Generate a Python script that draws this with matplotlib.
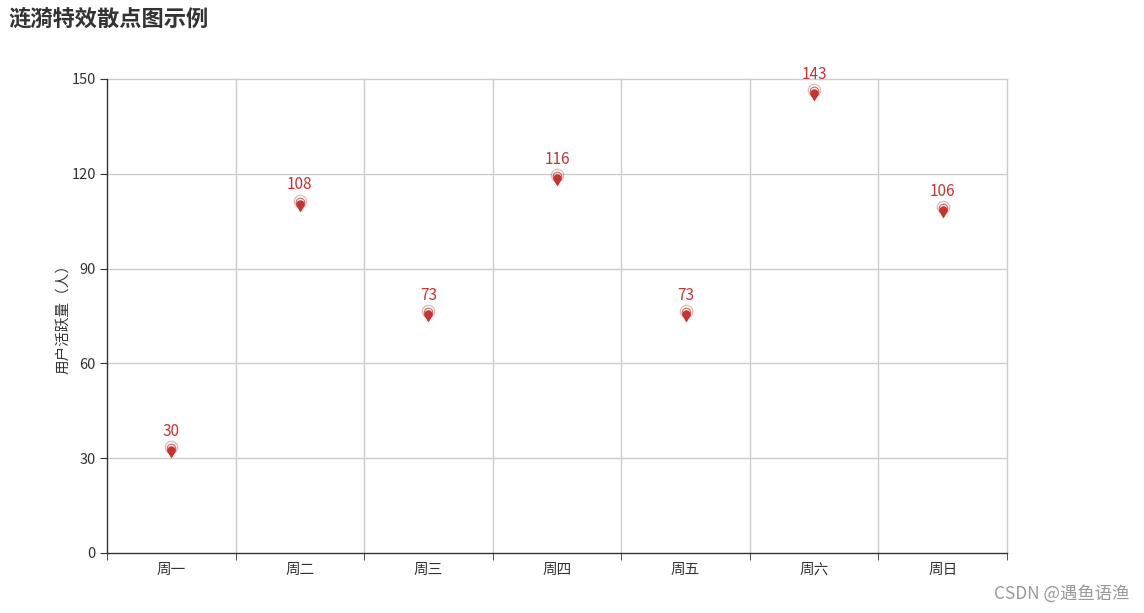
import matplotlib
matplotlib.use("Agg")
import matplotlib.pyplot as plt
from matplotlib.path import Path
from matplotlib.transforms import offset_copy
import numpy as np

plt.rcParams['font.family'] = ['Noto Sans CJK SC', 'DejaVu Sans']

categories = ['周一', '周二', '周三', '周四', '周五', '周六', '周日']
values = [30, 108, 73, 116, 73, 143, 106]
y_ticks = [0, 30, 60, 90, 120, 150]
title = '涟漪特效散点图示例'
y_label = '用户活跃量（人）'
watermark = 'CSDN @遇鱼语渔'

RED = '#c23531'
W, H = 1144, 613
fig = plt.figure(figsize=(W / 100, H / 100), dpi=100)
L, R, T, B = 107, 1007, 79, 553
ax = fig.add_axes([L / W, (H - B) / H, (R - L) / W, (B - T) / H])

x = np.arange(len(categories))
ax.set_xlim(-0.5, len(categories) - 0.5)
ax.set_ylim(0, 150)

# grid
for yv in y_ticks[1:]:
    ax.axhline(yv, color='#cccccc', lw=1, zorder=0, clip_on=False)
for xb in np.arange(0.5, len(categories), 1.0):
    ax.axvline(xb, color='#cccccc', lw=1, zorder=0, clip_on=False)

for s in ['top', 'right']:
    ax.spines[s].set_visible(False)
for s in ['left', 'bottom']:
    ax.spines[s].set_color('#333333')
    ax.spines[s].set_linewidth(1)

ax.set_yticks(y_ticks)
ax.set_yticklabels([str(v) for v in y_ticks], color='#333333', fontsize=10.5)
ax.tick_params(axis='y', length=5, color='#333333', pad=3)
ax.set_xticks(x)
ax.set_xticklabels(categories, color='#333333', fontsize=10.5)
ax.tick_params(axis='x', length=0, pad=7)
ax.set_xticks(np.arange(-0.5, len(categories), 1.0), minor=True)
ax.tick_params(axis='x', which='minor', length=5, color='#333333')

ax.set_ylabel(y_label, fontsize=10.5, color='#333333', labelpad=1)

# pin marker with tip at origin
t = np.linspace(-0.22 * np.pi, 1.22 * np.pi, 48)
r = 0.5
cx, cy = 0.0, 0.95
verts = [(0, 0)] + [(cx + r * np.cos(a), cy + r * np.sin(a)) for a in t] + [(0, 0)]
codes = [Path.MOVETO] + [Path.LINETO] * (len(verts) - 2) + [Path.CLOSEPOLY]
pin = Path(verts, codes)

ax.scatter(x, values, marker=pin, s=310, color=RED, zorder=4, linewidths=0, clip_on=False)

for xi, v in zip(x, values):
    for dy, rad, alpha in [(10, 4.3, 0.7), (11, 6.2, 0.35)]:
        tr = offset_copy(ax.transData, fig=fig, x=0, y=dy, units='dots')
        ax.plot([xi], [v], marker='o', ms=rad * 2 * 0.72, mfc='none', mec=RED,
                mew=0.9, alpha=alpha, transform=tr, zorder=3, clip_on=False)
    tl = offset_copy(ax.transData, fig=fig, x=0, y=27, units='dots')
    ax.text(xi, v, str(v), transform=tl, ha='center', va='center',
            color=RED, fontsize=11, zorder=5, clip_on=False)

fig.text(8 / W, 1 - 19 / H, title, fontsize=16, fontweight='bold',
         color='#333333', ha='left', va='center')
fig.text(1130 / W, 1 - 594 / H, watermark, fontsize=12.5, color='#999999',
         ha='right', va='center')

fig.savefig('out.png', dpi=100, facecolor='white')
